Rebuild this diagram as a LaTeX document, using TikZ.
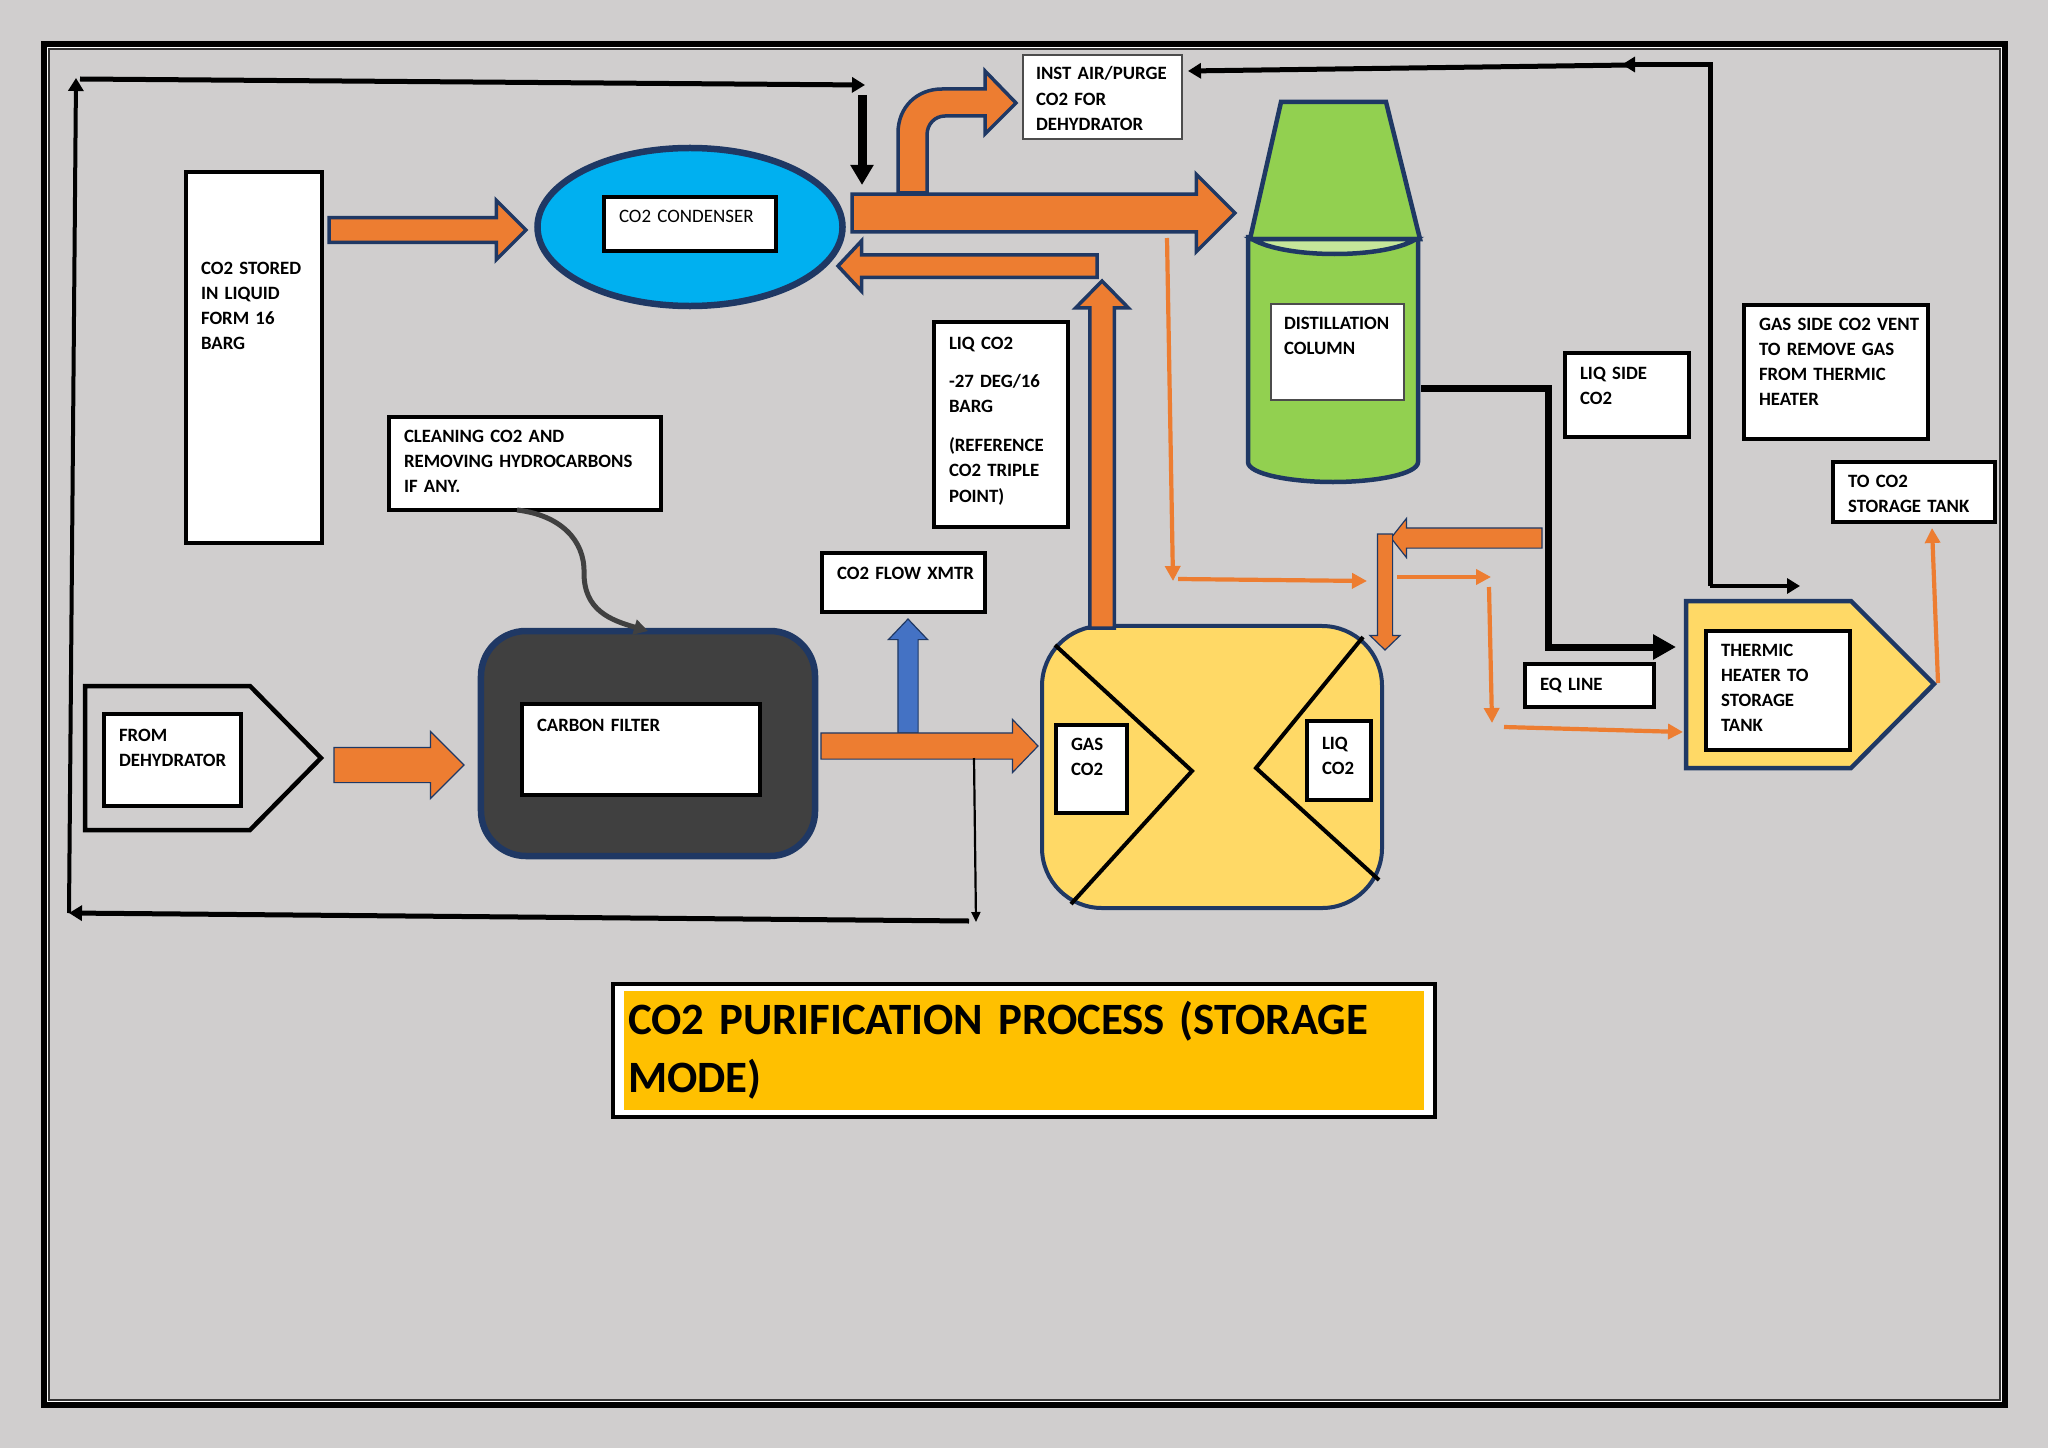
\documentclass[tikz,border=0pt]{standalone}
\usepackage{fontspec}
\setmainfont[WordSpace=0.6]{Carlito}
\usepackage{xcolor}
\usetikzlibrary{positioning, arrows.meta, shapes.arrows, shapes.geometric}
\definecolor{pagecolor}{HTML}{D0CECE}
\definecolor{pipecolor}{HTML}{ED7D31}
\definecolor{edgecolor}{HTML}{1F3864}
\definecolor{vesselcolor}{HTML}{FFD966}
\definecolor{columncolor}{HTML}{92D050}
\definecolor{lenscolor}{HTML}{C5E69A}
\definecolor{condensercolor}{HTML}{00B0F0}
\definecolor{filtercolor}{HTML}{404040}
\definecolor{bluecolor}{HTML}{4472C4}
\definecolor{goldcolor}{HTML}{FFC000}

\begin{document}
\begin{tikzpicture}[
      x=0.1mm, y=-0.1mm,
      % GLOBAL CFG
      font=\fontsize{5.35}{7.18}\selectfont\bfseries,
      % Styles
      tbox/.style n args={3}{% For labelled boxes: width, height, first baseline
        rectangle,
        draw,
        fill=white,
        line width=.45mm,
        anchor=north west,
        align=left,
        xshift=.2mm,
        yshift=-.2mm,
        outer sep=0pt,
        inner ysep=0pt,
        inner xsep=1.5mm,
        text width={(#1-34)*0.1mm},
        text height={(#3-2)*0.1mm},
        text depth={(#2-#3-2)*0.1mm},
        execute at begin node={\rightskip=-1mm plus 1fil\relax}
      },
      thinbox/.style={line width=.15mm, draw=black!70, inner xsep=1.3mm},
      pipe/.style n args={4}{% For block arrows: length, head width, shaft, head length
        single arrow,
        draw=edgecolor,
        fill=pipecolor,
        line width=.35mm,
        anchor=tail,
        outer sep=0pt,
        inner xsep=0pt,
        inner ysep={#3/2*0.1mm},
        minimum height={#1*0.1mm},
        minimum width={#2*0.1mm},
        single arrow head extend={(#2-#3)/2*0.1mm},
        single arrow tip angle={2*atan(#2/2/#4)}
      },
      thinpipe/.style={line width=.12mm},
      vessel/.style={draw=edgecolor, line width=.45mm, line join=miter},
      orangeline/.style={
        draw=pipecolor,
        line width=.42mm,
        -{Triangle[length=1.5mm, width=1.5mm]}
      },
      blackline/.style={
        draw=black,
        line width=#1,
        -{Triangle[length=1.3mm, width=1.5mm]}
      }
      ]
      \useasboundingbox (0,0) rectangle (2048,1448);
      \fill[pagecolor] (0,0) rectangle (2048,1448);

      % Outer frames
      \draw[line width=.6mm] (44,44) rectangle (2005,1405);
      \draw[white, line width=.12mm] (47.8,47.8) rectangle (2001.2,1401.2);
      \draw[black!80, line width=.12mm] (49,49) rectangle (2000,1400);

      % Free ends of the thin lines
      \coordinate (topstart) at (80,79);
      \coordinate (topend) at (865,85);
      \coordinate (downstart) at (862,95);
      \coordinate (downend) at (862,185);
      \coordinate (leftlow) at (69,913);
      \coordinate (lefthigh) at (76,78);
      \coordinate (returnstart) at (969,921);
      \coordinate (dropstart) at (974,758);
      \coordinate (dropend) at (976,922);
      \coordinate (instend) at (1188,71);
      \coordinate (loopfork) at (1710,586);
      \coordinate (loopcorner) at (1710,64.5);
      \coordinate (loopend) at (1622,64.5);
      \coordinate (loopright) at (1800,586);
      \coordinate (instmid) at (1630,65);
      \coordinate (liqstart) at (1421,388);
      \coordinate (liqcorner1) at (1548,388);
      \coordinate (liqcorner2) at (1548,647);
      \coordinate (liqend) at (1676,647);
      \coordinate (drain1) at (1167,238);
      \coordinate (drain2) at (1173,581);
      \coordinate (drain3) at (1178,579);
      \coordinate (drain4) at (1367,581);
      \coordinate (eq1) at (1397,577);
      \coordinate (eq2) at (1491,577);
      \coordinate (eq3) at (1489,587);
      \coordinate (eq4) at (1492,723);
      \coordinate (eq5) at (1504,727);
      \coordinate (eq6) at (1683,732);
      \coordinate (vent1) at (1938,683);
      \coordinate (vent2) at (1932,528);
      \coordinate (curvemid) at (584,573);

      % Draw the equipment
      \node [ellipse, draw=edgecolor, fill=condensercolor, line width=.65mm, minimum width=30.5cm*0.1, minimum height=15.8cm*0.1, inner sep=0pt, outer sep=0pt] (condenser) at (690,227) {};
      \node [rectangle, rounded corners=4.5mm, draw=edgecolor, fill=filtercolor, line width=.65mm, minimum width=33.4cm*0.1, minimum height=22.5cm*0.1, outer sep=0pt] (carbon) at (648,743.5) {};
      \node [rectangle, rounded corners=6mm, draw=edgecolor, fill=vesselcolor, line width=.4mm, minimum width=34cm*0.1, minimum height=28.2cm*0.1, outer sep=0pt] (receiver) at (1212,767) {};
      \draw[line width=.4mm] (1055,645) -- (1192,771) -- (1071,904);
      \draw[line width=.4mm] (1363,637) -- (1256,768) -- (1379,880);

      % Pentagons
      \draw[line width=.45mm, fill=pagecolor] (85,686) -- (250,686) -- (321,758) -- (250,830) -- (85,830) -- cycle;
      \draw[vessel, fill=vesselcolor] (1686,601) -- (1851,601) -- (1934,684) -- (1851,768) -- (1686,768) -- cycle;

      % Distillation column
      \draw[vessel, fill=columncolor] (1248,237) -- (1248,462) .. controls (1248,474) and (1290,482) .. (1333,482) .. controls (1376,482) and (1418,474) .. (1418,462) -- (1418,237) -- cycle;
      \draw[vessel, fill=columncolor] (1281,102) -- (1386,102) -- (1420,239) -- (1250,239) -- cycle;
      \draw[vessel, fill=lenscolor] (1252,239) .. controls (1285,259) and (1385,259) .. (1416,239) -- cycle;

      % Labelled boxes
      \node [tbox={140}{375}{104}] (stored) at (184,170) {CO2 STORED\\IN LIQUID\\FORM 16\\BARG};
      \node [tbox={176}{58}{27}, font=\fontsize{5.4}{7.09}\selectfont\mdseries] (condenserbox) at (602,195) {CO2 CONDENSER};
      \node [tbox={163}{88}{27}, thinbox, text width={133*0.1mm}] (inst) at (1021,53) {INST AIR/PURGE\\CO2 FOR\\DEHYDRATOR};
      \node [tbox={137}{100}{27}, thinbox, text width={107*0.1mm}] (column) at (1269,302) {DISTILLATION\\COLUMN};
      \node [tbox={138}{209}{29}] (liqnote) at (932,320) {LIQ CO2\\[.13cm]-27 DEG/16\\BARG\\[.14cm](REFERENCE\\CO2 TRIPLE\\POINT)};
      \node [tbox={276}{97}{27}] (cleaning) at (387,415) {CLEANING CO2 AND\\REMOVING HYDROCARBONS\\IF ANY.};
      \node [tbox={167}{63}{28}] (xmtr) at (820,551) {CO2 FLOW XMTR};
      \node [tbox={128}{88}{28}] (liqside) at (1563,351) {LIQ SIDE\\CO2};
      \node [tbox={188}{138}{27}] (gasside) at (1742,303) {GAS SIDE CO2 VENT\\TO REMOVE GAS\\FROM THERMIC\\HEATER};
      \node [tbox={166}{64}{27}] (tostorage) at (1831,460) {TO CO2\\STORAGE TANK};
      \node [tbox={133}{47}{28}] (eqline) at (1523,662) {EQ LINE};
      \node [tbox={148}{123}{27}] (heater) at (1704,629) {THERMIC\\HEATER TO\\STORAGE\\TANK};
      \node [tbox={75}{92}{27}] (gasbox) at (1054,723) {GAS\\CO2};
      \node [tbox={68}{83}{30}] (liqbox) at (1305,719) {LIQ\\CO2};
      \node [tbox={141}{96}{29}] (dehydrator) at (102,712) {FROM\\DEHYDRATOR};
      \node [tbox={242}{95}{29}] (carbonbox) at (520,702) {CARBON FILTER};

      % Title
      \node [tbox={826}{137}{3}] (titleframe) at (611,982) {};
      \node [tbox={804}{123}{45}, draw=none, fill=goldcolor, font=\fontsize{12.75}{16.6}\selectfont\bfseries, inner xsep=.4mm, text width={792*0.1mm}] (title) at (622,989) {CO2 PURIFICATION PROCESS (STORAGE\\MODE)};

      % Block arrows
      \node [pipe={197}{56}{21}{28}] (feedpipe) at (329,230) {};
      \node [pipe={130}{66}{34}{33}, thinpipe] (dehydpipe) at (334,765) {};
      \draw[draw=edgecolor, fill=pipecolor, line width=.35mm] (898,193) -- (898,133) .. controls (898,107) and (917,89) .. (942,89) -- (985,89) -- (985,71) -- (1016,103) -- (985,134) -- (985,116) -- (945,116) .. controls (935,116) and (927,124) .. (927,135) -- (927,193) -- cycle;
      \node [pipe={383}{74}{34}{37}] (mainpipe) at (852,213) {};
      \node [pipe={259}{47}{19}{22}, rotate=180] (returnpipe) at (1097,266) {};
      \node [pipe={347}{49}{21}{25}, rotate=90] (uppipe) at (1102,628) {};
      \node [pipe={114}{38}{19}{20}, rotate=90, thinpipe, fill=bluecolor] (bluepipe) at (908,733) {};
      \node [pipe={217}{52}{25}{25}, thinpipe] (flowpipe) at (821,746) {};
      \node [pipe={151}{38}{19}{15}, rotate=180, thinpipe] (eqpipe) at (1542,538) {};
      \node [pipe={116}{29}{14}{14}, rotate=-90, thinpipe] (eqdown) at (1385,534) {};

      % Thin lines
      \draw [blackline=.5mm] (topstart) -- (topend);
      \draw [draw=black, line width=.9mm, -{Triangle[length=2mm, width=2.2mm]}] (downstart) -- (downend);
      \draw [blackline=.4mm] (leftlow) -- (lefthigh);
      \draw [blackline=.5mm] (returnstart) -- (leftlow);
      \draw [draw=black, line width=.22mm, -{Triangle[length=1mm, width=.9mm]}] (dropstart) -- (dropend);
      \draw [blackline=.5mm] (instmid) -- (instend);
      \draw [blackline=.5mm] (loopfork) -- (loopcorner) -- (loopend);
      \draw [blackline=.45mm] (loopfork) -- (loopright);
      \draw [draw=black, line width=.7mm, -{Triangle[length=2.3mm, width=2.4mm]}] (liqstart) -- (liqcorner1) -- (liqcorner2) -- (liqend);

      \draw [orangeline] (drain1) -- (drain2);
      \draw [orangeline] (drain3) -- (drain4);
      \draw [orangeline] (eq1) -- (eq2);
      \draw [orangeline] (eq3) -- (eq4);
      \draw [orangeline] (eq5) -- (eq6);
      \draw [orangeline] (vent1) -- (vent2);

      \draw [draw=filtercolor, line width=.5mm, -{Triangle[length=1.4mm, width=1.5mm]}] ([xshift=-.8mm]cleaning.south) .. controls (560,515) and (585,540) .. (curvemid) .. controls (584,610) and (610,620) .. (carbon.north);
    \end{tikzpicture}
\end{document}
